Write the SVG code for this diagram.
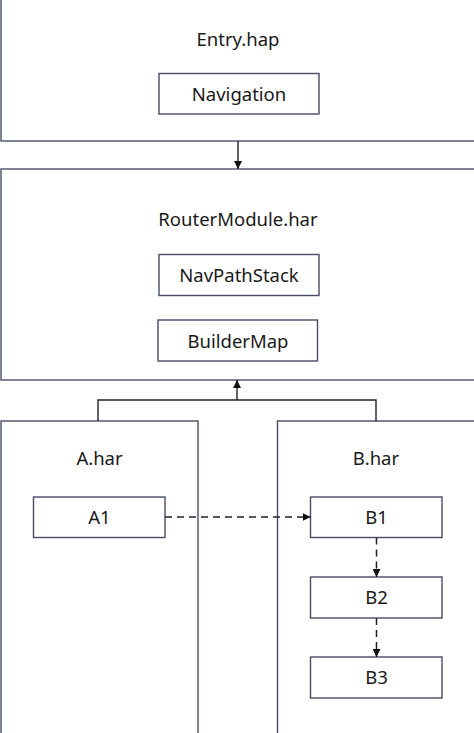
<svg xmlns="http://www.w3.org/2000/svg" width="474" height="733" viewBox="0 0 474 733">
<defs>
<style>
.c{fill:#fff;stroke:#4a4e68;stroke-width:1.4}
.b{fill:#fff;stroke:#474b66;stroke-width:1.4}
.t{font-family:"Noto Sans","Open Sans",sans-serif;font-size:18.5px;fill:#1a1a1a;text-anchor:middle}
.l{fill:none;stroke:#222;stroke-width:1.4}
.d{fill:none;stroke:#222;stroke-width:1.5;stroke-dasharray:7 5}
</style>
<marker id="ah" viewBox="0 0 10 10" refX="10" refY="5" markerWidth="8" markerHeight="8" markerUnits="userSpaceOnUse" orient="auto">
<path d="M0,0 L10,5 L0,10 z" fill="#111"/>
</marker>
</defs>
<rect width="474" height="733" fill="#fff"/>
<g id="entry">
<rect class="c" x="1" y="-5" width="480" height="146"/>
<text class="t" x="238" y="46">Entry.hap</text>
</g>
<g id="navigation">
<rect class="b" x="159" y="73.5" width="160" height="40.5"/>
<text class="t" x="239" y="100.5">Navigation</text>
</g>
<g id="router">
<rect class="c" x="1" y="169" width="480" height="211"/>
<text class="t" x="238" y="226">RouterModule.har</text>
</g>
<g id="navpathstack">
<rect class="b" x="159" y="254.5" width="160" height="41"/>
<text class="t" x="239" y="282">NavPathStack</text>
</g>
<g id="buildermap">
<rect class="b" x="158" y="320" width="159.5" height="41"/>
<text class="t" x="238" y="348">BuilderMap</text>
</g>
<g id="ahar">
<rect class="c" x="1" y="421" width="197" height="320"/>
<text class="t" x="99.5" y="465">A.har</text>
</g>
<g id="bhar">
<rect class="c" x="277.5" y="421" width="210" height="320"/>
<text class="t" x="376" y="465">B.har</text>
</g>
<g id="a1">
<rect class="b" x="33.5" y="497" width="131.5" height="40.5"/>
<text class="t" x="99.5" y="524">A1</text>
</g>
<g id="b1">
<rect class="b" x="310.5" y="497" width="131.5" height="40.5"/>
<text class="t" x="376.5" y="524">B1</text>
</g>
<g id="b2">
<rect class="b" x="310.5" y="577" width="131.5" height="41"/>
<text class="t" x="376.5" y="604">B2</text>
</g>
<g id="b3">
<rect class="b" x="310.5" y="657" width="131.5" height="41"/>
<text class="t" x="376.5" y="684">B3</text>
</g>
<g id="connectors">
<path class="l" d="M238,141 V169" marker-end="url(#ah)"/>
<path class="l" d="M98,421 V400 H376 V421"/>
<path class="l" d="M237,400 V380" marker-end="url(#ah)" stroke-width="2.2"/>
<path class="d" d="M165,517 H310.5" marker-end="url(#ah)"/>
<path class="d" d="M376.5,537.5 V577" marker-end="url(#ah)"/>
<path class="d" d="M376.5,618 V657" marker-end="url(#ah)"/>
</g>
</svg>
